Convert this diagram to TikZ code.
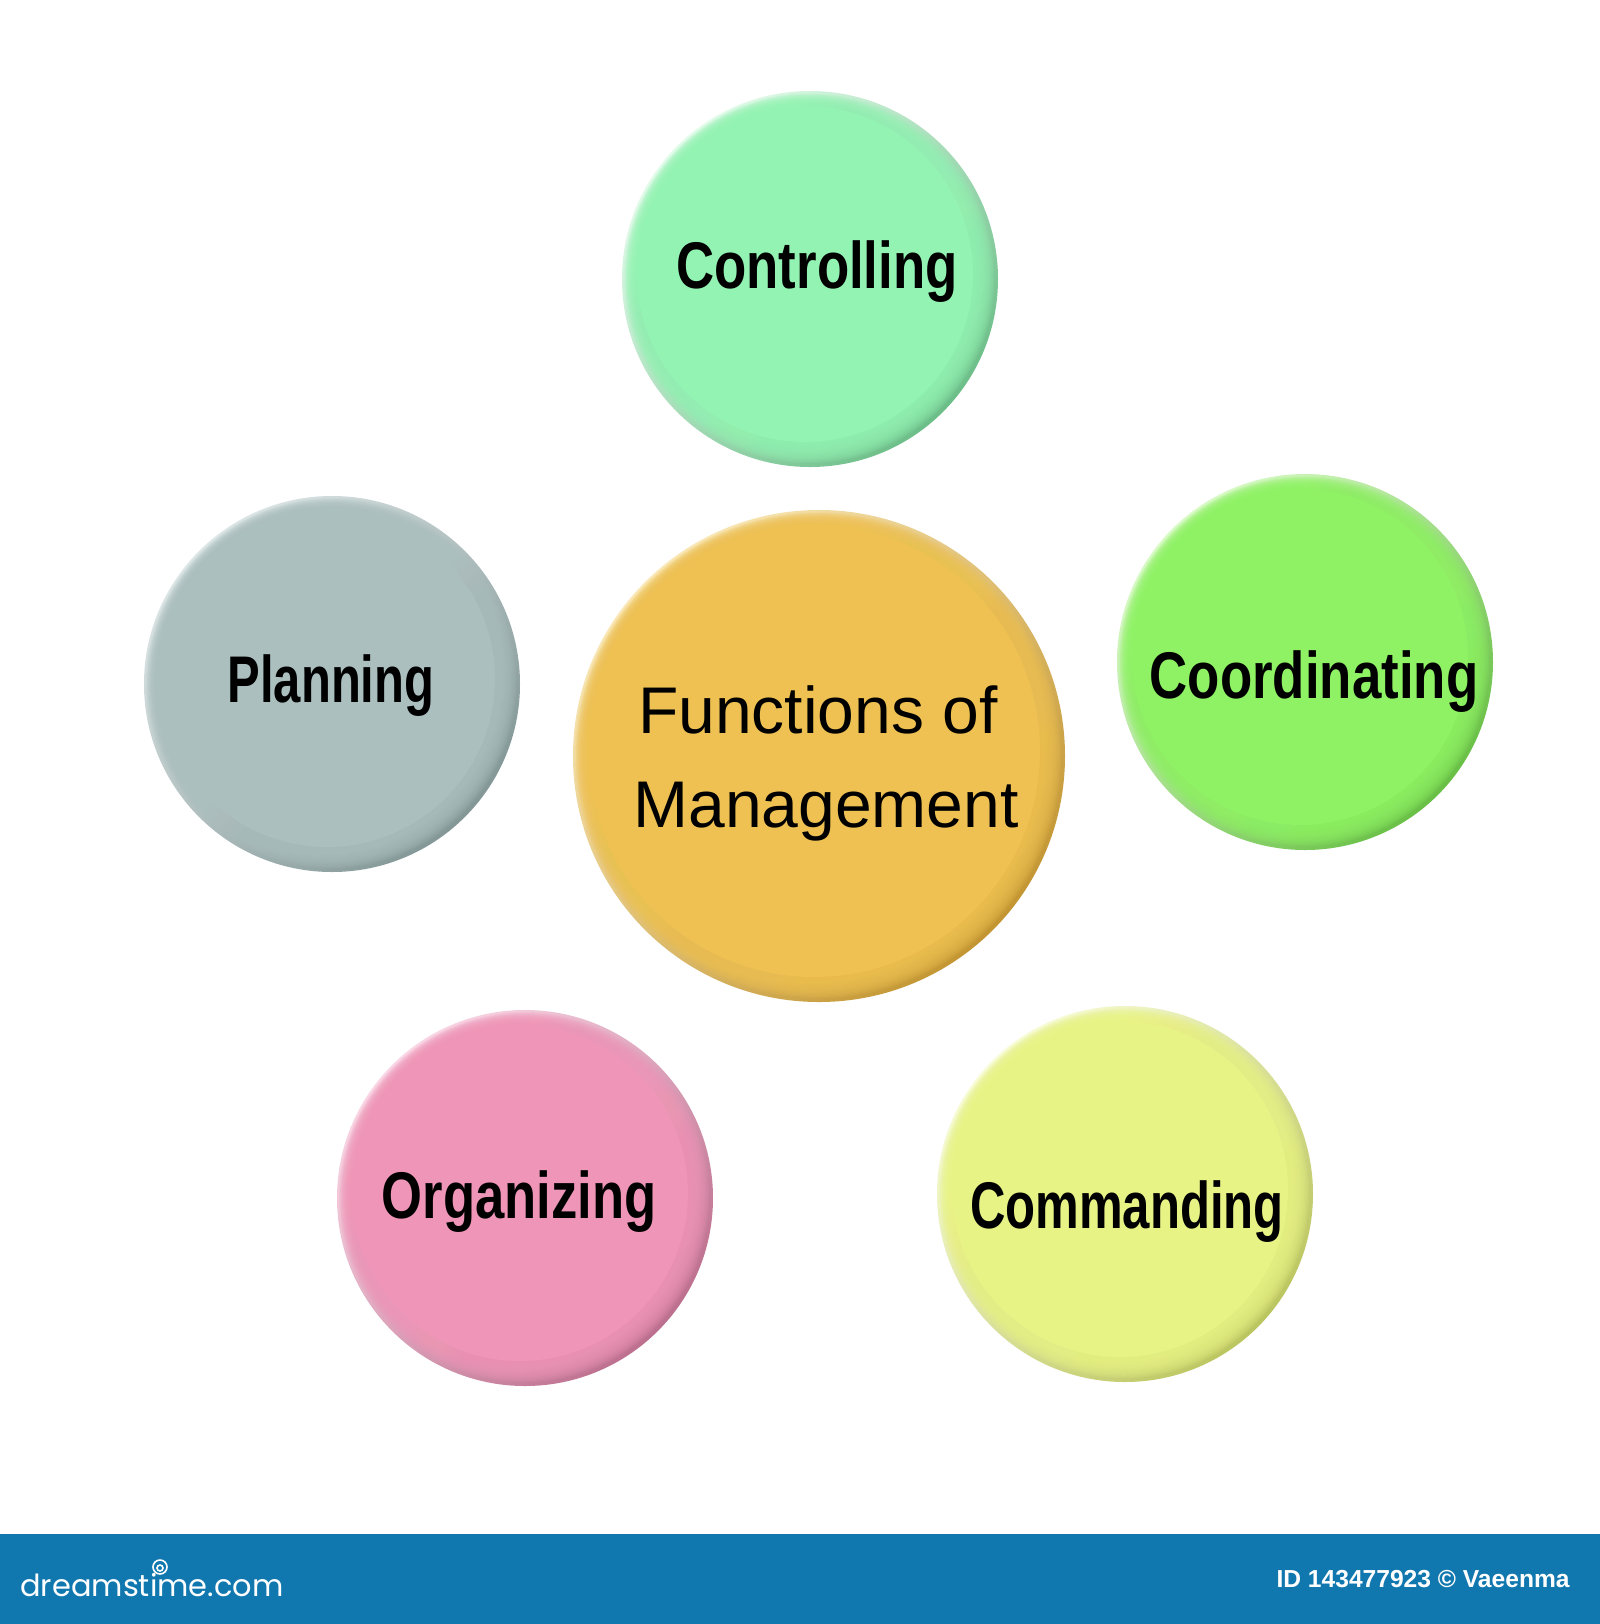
\documentclass[tikz,border=0pt]{standalone}
\usepackage{fontspec}
\setmainfont{Liberation Sans}
\newfontfamily\popfont{Poppins}
\usetikzlibrary{shadings}
\definecolor{ctrlL}{HTML}{E2FCEA}\definecolor{ctrlB}{HTML}{93F3B3}\definecolor{ctrlD}{HTML}{6CBE88}
\definecolor{planL}{HTML}{DCE5E5}\definecolor{planB}{HTML}{ABBFBF}\definecolor{planD}{HTML}{839797}
\definecolor{funcL}{HTML}{FAE7B4}\definecolor{funcB}{HTML}{EEC152}\definecolor{funcD}{HTML}{C39632}
\definecolor{coorL}{HTML}{D8FBC6}\definecolor{coorB}{HTML}{8FF264}\definecolor{coorD}{HTML}{69C046}
\definecolor{orgaL}{HTML}{FAD6E5}\definecolor{orgaB}{HTML}{EF96B8}\definecolor{orgaD}{HTML}{BD6F8E}
\definecolor{commL}{HTML}{F8FCD4}\definecolor{commB}{HTML}{E8F385}\definecolor{commD}{HTML}{BCC660}
\definecolor{barblue}{HTML}{1177AF}
\newcommand\mybutton[5]{% x, y, r (px), colour prefix, name
  \shade[top color=#4L, middle color=#4B, bottom color=#4D, shading angle=45]
    (#1,#2) circle[radius=#3*0.5pt];
  \foreach \i in {3,...,18}{
    \fill[#4B, opacity=0.15] (#1-0.25*\i,#2-0.25*\i) circle[radius=(#3-\i)*0.5pt];
  }
  \fill[#4B] (#1-5,#2-5) circle[radius=(#3-20)*0.5pt];
  \coordinate (#5) at (#1,#2);
}
\tikzset{
  lbl/.style={font=\fontsize{33pt}{38pt}\selectfont\bfseries, text=black, anchor=base, inner sep=0pt},
  ctr/.style={text=black, anchor=base, inner sep=0pt, font=\fontsize{33pt}{38pt}\selectfont},
  bartext/.style={text=white, inner sep=0pt}
}
\begin{document}
\begin{tikzpicture}[x=0.5pt, y=-0.5pt]
\useasboundingbox (0,0) rectangle (1600,1624);
\fill[white] (0,0) rectangle (1600,1624);
% buttons
\mybutton{810}{279}{188}{ctrl}{cctrl}
\mybutton{332}{684}{188}{plan}{cplan}
\mybutton{819}{756}{246}{func}{cfunc}
\mybutton{1305}{662}{188}{coor}{ccoor}
\mybutton{525}{1198}{188}{orga}{corga}
\mybutton{1125}{1194}{188}{comm}{ccomm}
% labels
\node[lbl] (tctrl) at (817,288) {\scalebox{0.80}[1]{Controlling}};
\node[lbl] (tplan) at (331,702) {\scalebox{0.742}[1]{Planning}};
\node[lbl] (tcoor) at (1314,698) {\scalebox{0.80}[1]{Coordinating}};
\node[lbl] (torga) at (519,1218) {\scalebox{0.797}[1]{Organizing}};
\node[lbl] (tcomm) at (1127,1228) {\scalebox{0.744}[1]{Commanding}};
\node[ctr] (tfunc1) at (818,733) {Functions of};
\node[ctr] (tfunc2) at (826,827) {Management};
% bottom bar
\fill[barblue] (0,1534) rectangle (1600,1624);
\node[bartext, anchor=base west] (dream) at (20,1596)
  {\resizebox{131.5pt}{!}{\popfont dreamstime.com}};
\draw[white, line width=0.8pt] (160,1567) circle[radius=3.5pt];
\draw[white, line width=0.8pt] (160,1568) circle[radius=1.5pt];
\node[bartext, anchor=base east, font=\fontsize{12.3pt}{14pt}\selectfont\bfseries] (ident) at (1570,1587)
  {ID 143477923 © Vaeenma};
\end{tikzpicture}
\end{document}
